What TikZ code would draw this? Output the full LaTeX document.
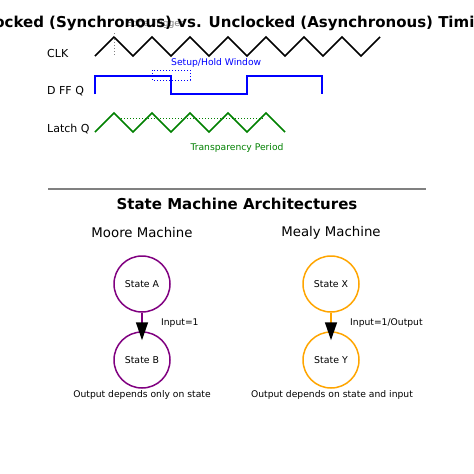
\documentclass[tikz,border=0pt]{standalone}
\usepackage{fontspec}
\setmainfont{DejaVu Sans}
\usetikzlibrary{arrows.meta}
\definecolor{mpurple}{RGB}{128,0,128}
\definecolor{morange}{RGB}{255,165,0}
\definecolor{mgreen}{RGB}{0,128,0}
\definecolor{mgray}{RGB}{128,128,128}
\begin{document}
\begin{tikzpicture}[x=1pt,y=-1pt,
  lbl/.style={font=\fontsize{11}{13}\selectfont, anchor=west, inner sep=0},
  small/.style={font=\fontsize{9.2}{11}\selectfont, inner sep=0},
  ttl/.style={font=\fontsize{15}{18}\selectfont\bfseries, inner sep=0},
  sub/.style={font=\fontsize{13.3}{16}\selectfont, inner sep=0},
  state/.style={circle, draw, line width=1.5pt, minimum size=56pt, inner sep=0, font=\fontsize{9.4}{11}\selectfont},
  trans/.style={line width=1.5pt, -{Triangle[length=18pt,width=12pt,color=black]}, shorten >=-9pt},
  wave/.style={line width=1.5pt, line join=miter}
]
\useasboundingbox (0,0) rectangle (474,474);

% Timing section
\node[small, text=mgray] (edge) at (155,24) {Edge Trigger};
\node[ttl] (title) at (237,23) {Clocked (Synchronous) vs. Unclocked (Asynchronous) Timing};

\node[lbl] (clk) at (47,53) {CLK};
\node[lbl] (dff) at (47,91) {D FF Q};
\node[lbl] (latch) at (47,129) {Latch Q};

\draw[wave, black] (95,56) -- (114,37) -- (133,56) -- (152,37) -- (171,56) -- (190,37) -- (209,56) -- (228,37) -- (247,56) -- (266,37) -- (285,56) -- (304,37) -- (323,56) -- (342,37) -- (361,56) -- (380,37);
\draw[mgray, dotted, line width=1pt] (114,33) -- (114,57);

\draw[wave, blue] (95,94) -- (95,76) -- (171,76) -- (171,94) -- (247,94) -- (247,76) -- (322,76) -- (322,94);
\draw[blue, dotted, line width=1pt] (152,70) rectangle (190,80);
\node[small, text=blue, anchor=west] (setup) at (171,63) {Setup/Hold Window};

\draw[wave, mgreen] (95,132) -- (114,113) -- (133,132) -- (152,113) -- (171,132) -- (190,113) -- (209,132) -- (228,113) -- (247,132) -- (266,113) -- (285,132);
\draw[mgreen, dotted, line width=1pt] (121,118) -- (263,118);
\node[small, text=mgreen] (transp) at (237,148) {Transparency Period};

% separator
\draw[mgray, line width=1.5pt] (48,189) -- (426,189);

% State machines
\node[ttl] (smtitle) at (237,204) {State Machine Architectures};
\node[sub] (moore) at (142,233) {Moore Machine};
\node[sub] (mealy) at (331,233) {Mealy Machine};

\node[state, draw=mpurple] (A) at (142,284) {State A};
\node[state, draw=mpurple] (B) at (142,360) {State B};
\draw[trans, mpurple] (A) -- (B);
\node[small, anchor=west] (inA) at (161,323) {Input=1};
\node[small] (outA) at (142,395) {Output depends only on state};

\node[state, draw=morange] (X) at (331,284) {State X};
\node[state, draw=morange] (Y) at (331,360) {State Y};
\draw[trans, morange] (X) -- (Y);
\node[small, anchor=west] (inX) at (350,323) {Input=1/Output};
\node[small] (outX) at (332,395) {Output depends on state and input};
\end{tikzpicture}
\end{document}
